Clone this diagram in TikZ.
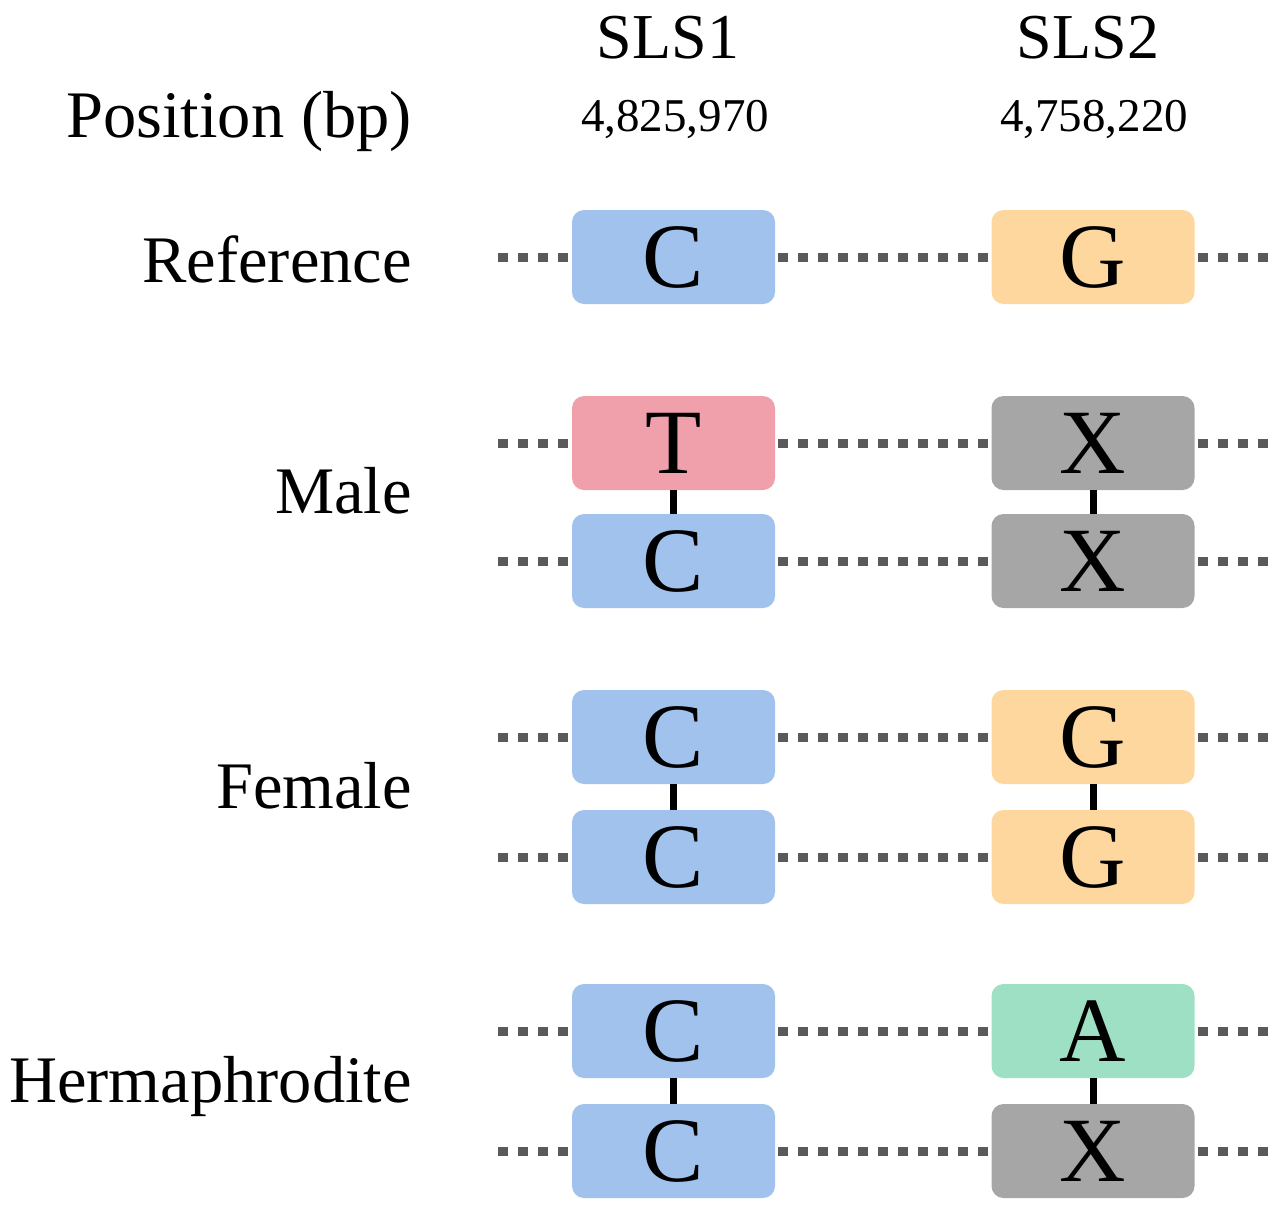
\documentclass[tikz,border=0pt]{standalone}
\usepackage{fontspec}
\setmainfont{Liberation Serif}
\definecolor{cblue}{RGB}{161,194,237}
\definecolor{corange}{RGB}{253,215,158}
\definecolor{cpink}{RGB}{240,160,170}
\definecolor{cgray}{RGB}{166,166,166}
\definecolor{cgreen}{RGB}{158,224,196}
\definecolor{cdot}{RGB}{90,90,90}
\begin{document}
\begin{tikzpicture}[x=1pt,y=-1pt,
  base/.style={rectangle, rounded corners=12pt, minimum width=203pt, minimum height=94pt, inner sep=0pt, font=\fontsize{92}{92}\selectfont},
  rowlabel/.style={anchor=base east, inner sep=0pt, font=\fontsize{66.5}{66.5}\selectfont},
  headlabel/.style={anchor=base, inner sep=0pt, font=\fontsize{64}{64}\selectfont},
  poslabel/.style={anchor=base, inner sep=0pt, font=\fontsize{47}{47}\selectfont},
  dotline/.style={draw=cdot, line width=9pt, dash pattern=on 10pt off 10pt},
  link/.style={draw=black, line width=7pt}
]
\useasboundingbox (0,0) rectangle (1276,1208);

% headers
\node[headlabel] (h1) at (668,58) {SLS1};
\node[headlabel] (h2) at (1088,58) {SLS2};
\node[poslabel] (p1) at (675,131) {4,825,970};
\node[poslabel] (p2) at (1094,131) {4,758,220};
\node[rowlabel] (lpos) at (412,137) {Position (bp)};

% row labels
\node[rowlabel] (lref) at (412,282) {Reference};
\node[rowlabel] (lmale) at (412,513) {Male};
\node[rowlabel] (lfem) at (412,808) {Female};
\node[rowlabel] (lherm) at (412,1102) {Hermaphrodite};

% boxes
\node[base, fill=cblue] (ra) at (673.5,257) {C};
\node[base, fill=corange] (rb) at (1093,257) {G};

\node[base, fill=cpink] (ma1) at (673.5,443) {T};
\node[base, fill=cgray] (mb1) at (1093,443) {X};
\node[base, fill=cblue] (ma2) at (673.5,561) {C};
\node[base, fill=cgray] (mb2) at (1093,561) {X};

\node[base, fill=cblue] (fa1) at (673.5,737) {C};
\node[base, fill=corange] (fb1) at (1093,737) {G};
\node[base, fill=cblue] (fa2) at (673.5,857) {C};
\node[base, fill=corange] (fb2) at (1093,857) {G};

\node[base, fill=cblue] (ha1) at (673.5,1031) {C};
\node[base, fill=cgreen] (hb1) at (1093,1031) {A};
\node[base, fill=cblue] (ha2) at (673.5,1151) {C};
\node[base, fill=cgray] (hb2) at (1093,1151) {X};

% free ends
\foreach \n/\y in {r/257, m1/443, m2/561, f1/737, f2/857, h1/1031, h2/1151}{
  \coordinate (L\n) at (498,\y);
  \coordinate (R\n) at (1272,\y);
}

% dotted strands
\foreach \n/\a/\b in {r/ra/rb, m1/ma1/mb1, m2/ma2/mb2, f1/fa1/fb1, f2/fa2/fb2, h1/ha1/hb1, h2/ha2/hb2}{
  \draw[dotline] (L\n) -- (\a.west);
  \draw[dotline, dash phase=-3pt] (\a.east) -- (\b.west);
  \draw[dotline, dash phase=-3pt] (\b.east) -- (R\n);
}

% links between alleles
\foreach \a/\b in {ma1/ma2, mb1/mb2, fa1/fa2, fb1/fb2, ha1/ha2, hb1/hb2}{
  \draw[link] (\a.south) -- (\b.north);
}
\end{tikzpicture}
\end{document}
